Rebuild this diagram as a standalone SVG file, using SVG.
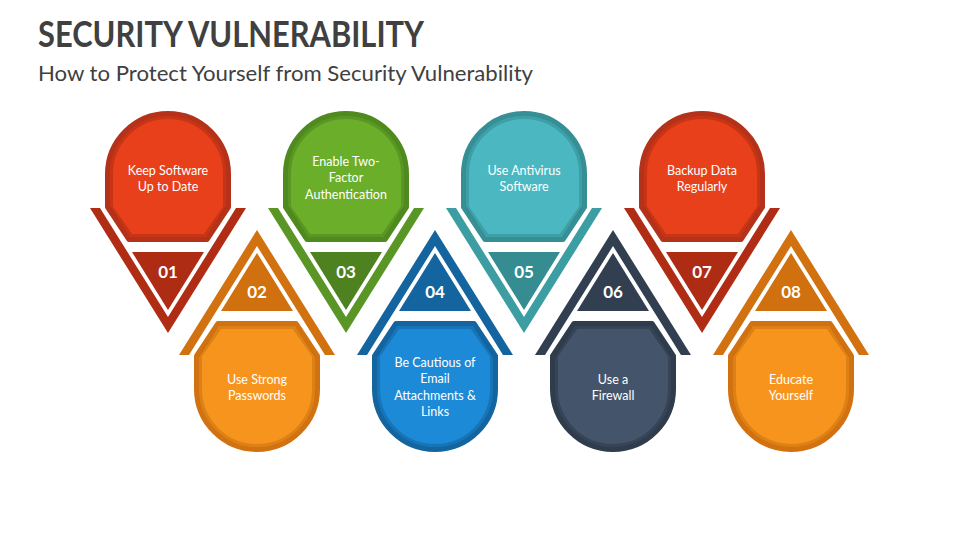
<svg xmlns="http://www.w3.org/2000/svg" width="960" height="540" viewBox="0 0 960 540">
  <defs>
    <style>
      .title { font-family: Lato, "Open Sans", "Liberation Sans", sans-serif; font-weight: 700; font-size: 36px; fill: #404040; }
      .sub { font-family: Lato, "Open Sans", "Liberation Sans", sans-serif; font-size: 21px; fill: #404040; }
      .lbl { font-family: Lato, "Open Sans", "Liberation Sans", sans-serif; font-size: 12.5px; fill: #ffffff; text-anchor: middle; dominant-baseline: central; }
      .num { font-family: Lato, "Open Sans", "Liberation Sans", sans-serif; font-weight: 700; font-size: 17px; fill: #ffffff; text-anchor: middle; dominant-baseline: central; }
      .balloon { fill: var(--f); stroke: var(--d); stroke-width: 5; stroke-linejoin: round; }
      .band { fill: var(--b); }
      .tri { fill: var(--t); }
      .shade { fill: none; stroke: var(--s); stroke-width: 3; stroke-opacity: 0.3; }
      .red { --f: #E8401A; --d: #B5321A; --b: #B02C14; --t: #AE2B14; --s: #7A1E0C; }
      .orange { --f: #F7941E; --d: #D2710F; --b: #D2710F; --t: #D0700F; --s: #A05608; }
      .green { --f: #6AAE2A; --d: #4F8A1F; --b: #5A9626; --t: #4E8220; --s: #365F15; }
      .blue { --f: #1C8AD6; --d: #14649F; --b: #14649F; --t: #14659F; --s: #0C4672; }
      .teal { --f: #4BB8C1; --d: #358F95; --b: #3C9EA3; --t: #358D92; --s: #22676C; }
      .slate { --f: #44546A; --d: #2F3C4C; --b: #323F50; --t: #323F50; --s: #1A222C; }
    </style>
    <g id="topShape">
      <path class="band" d="M -78 208 L -68 208 L 0 317 L 68 208 L 78 208 L 0 333 Z"/>
      <path class="tri" d="M -36 252 L 36 252 L 0 310 Z"/>
      <path class="balloon" d="M -60.5 174 A 60.5 60.5 0 0 1 60.5 174 L 60.5 207 L 39 239.5 L -39 239.5 L -60.5 207 Z"/>
      <path class="shade" d="M -56.5 174 A 56.5 56.5 0 0 1 56.5 174 L 56.5 207 L 36.5 235.5 L -36.5 235.5 L -56.5 207 Z"/>
    </g>
    <g id="botShape">
      <path class="band" d="M -78 355 L -68 355 L 0 246 L 68 355 L 78 355 L 0 230 Z"/>
      <path class="tri" d="M -36 311 L 36 311 L 0 253 Z"/>
      <path class="balloon" d="M -60.5 389 A 60.5 60.5 0 0 0 60.5 389 L 60.5 356 L 39 323.5 L -39 323.5 L -60.5 356 Z"/>
      <path class="shade" d="M -56.5 389 A 56.5 56.5 0 0 0 56.5 389 L 56.5 356 L 36.5 327.5 L -36.5 327.5 L -56.5 356 Z"/>
    </g>
  </defs>
  <rect width="960" height="540" fill="#ffffff"/>

  <text class="title" x="38" y="47" textLength="386" lengthAdjust="spacingAndGlyphs">SECURITY VULNERABILITY</text>
  <text class="sub" x="38" y="81" textLength="495" lengthAdjust="spacingAndGlyphs">How to Protect Yourself from Security Vulnerability</text>

  <g id="connectors"></g>

  <g id="node1" class="red" transform="translate(168,0)">
    <use href="#topShape"/>
    <text class="num" x="0" y="271">01</text>
    <text class="lbl" x="0" y="170">Keep Software</text>
    <text class="lbl" x="0" y="186">Up to Date</text>
  </g>
  <g id="node2" class="orange" transform="translate(257,0)">
    <use href="#botShape"/>
    <text class="num" x="0" y="291">02</text>
    <text class="lbl" x="0" y="379">Use Strong</text>
    <text class="lbl" x="0" y="395">Passwords</text>
  </g>
  <g id="node3" class="green" transform="translate(346,0)">
    <use href="#topShape"/>
    <text class="num" x="0" y="271">03</text>
    <text class="lbl" x="0" y="161">Enable Two-</text>
    <text class="lbl" x="0" y="177.5">Factor</text>
    <text class="lbl" x="0" y="194">Authentication</text>
  </g>
  <g id="node4" class="blue" transform="translate(435,0)">
    <use href="#botShape"/>
    <text class="num" x="0" y="291">04</text>
    <text class="lbl" x="0" y="362">Be Cautious of</text>
    <text class="lbl" x="0" y="378.5">Email</text>
    <text class="lbl" x="0" y="395">Attachments &amp;</text>
    <text class="lbl" x="0" y="411.5">Links</text>
  </g>
  <g id="node5" class="teal" transform="translate(524,0)">
    <use href="#topShape"/>
    <text class="num" x="0" y="271">05</text>
    <text class="lbl" x="0" y="170">Use Antivirus</text>
    <text class="lbl" x="0" y="186">Software</text>
  </g>
  <g id="node6" class="slate" transform="translate(613,0)">
    <use href="#botShape"/>
    <text class="num" x="0" y="291">06</text>
    <text class="lbl" x="0" y="379">Use a</text>
    <text class="lbl" x="0" y="395">Firewall</text>
  </g>
  <g id="node7" class="red" transform="translate(702,0)">
    <use href="#topShape"/>
    <text class="num" x="0" y="271">07</text>
    <text class="lbl" x="0" y="170">Backup Data</text>
    <text class="lbl" x="0" y="186">Regularly</text>
  </g>
  <g id="node8" class="orange" transform="translate(791,0)">
    <use href="#botShape"/>
    <text class="num" x="0" y="291">08</text>
    <text class="lbl" x="0" y="379">Educate</text>
    <text class="lbl" x="0" y="395">Yourself</text>
  </g>
</svg>
